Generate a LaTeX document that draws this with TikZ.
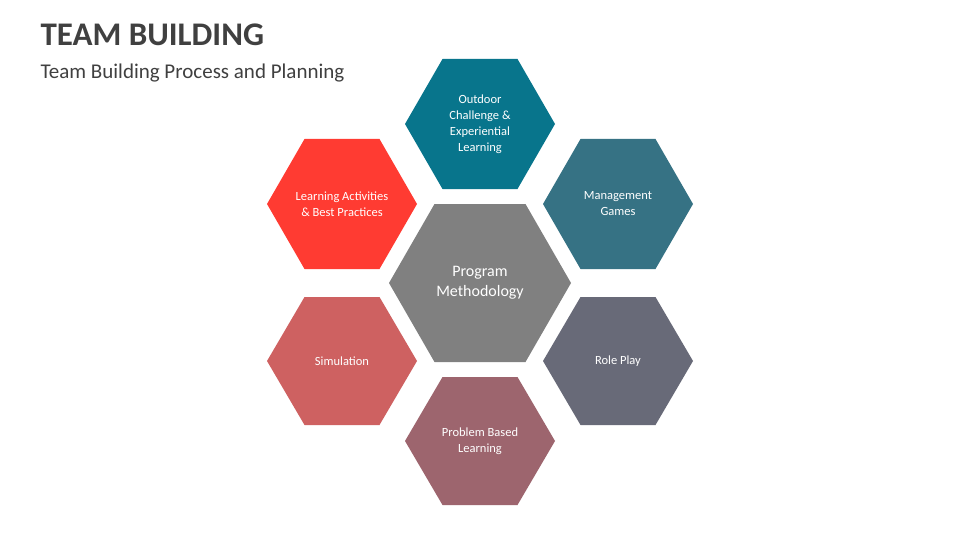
\documentclass[tikz,border=0pt]{standalone}
\usepackage{fontspec}
\setmainfont{Carlito}
\definecolor{cTop}{RGB}{8,117,140}
\definecolor{cMg}{RGB}{54,114,132}
\definecolor{cLa}{RGB}{255,59,50}
\definecolor{cSim}{RGB}{206,97,97}
\definecolor{cRole}{RGB}{104,106,120}
\definecolor{cProb}{RGB}{157,101,110}
\definecolor{cCen}{RGB}{128,128,128}
\definecolor{cTitle}{RGB}{64,64,64}
\newcommand{\hexshape}[5]{%
  \fill[#5] (#1-#3,#2) -- (#1-#3/2,#2-#4) -- (#1+#3/2,#2-#4) -- (#1+#3,#2) -- (#1+#3/2,#2+#4) -- (#1-#3/2,#2+#4) -- cycle;}
\tikzset{lbl/.style={text=white,align=center,font=\fontsize{12.5}{16}\selectfont}}
\begin{document}
\begin{tikzpicture}[x=1pt,y=-1pt]
\useasboundingbox (0,0) rectangle (960,540);
\fill[white] (0,0) rectangle (960,540);
\node[anchor=west,text=cTitle,font=\fontsize{33}{36}\selectfont\bfseries] (title) at (37,35) {TEAM BUILDING};
\node[anchor=west,text=cTitle,font=\fontsize{21}{24}\selectfont] (sub) at (37,73) {Team Building Process and Planning};
\hexshape{480}{124}{75}{65}{cTop}
\hexshape{618}{204}{75}{65}{cMg}
\hexshape{342}{204}{75}{65}{cLa}
\hexshape{342}{361}{75}{64}{cSim}
\hexshape{618}{361}{75}{64}{cRole}
\hexshape{480}{441}{75}{64}{cProb}
\hexshape{480}{283}{91}{79}{cCen}
\node[lbl] (top) at (480,124) {Outdoor\\Challenge \&\\Experiential\\Learning};
\node[lbl] (mg) at (618,204) {Management\\Games};
\node[lbl] (la) at (342,204) {Learning Activities\\\& Best Practices};
\node[lbl] (sim) at (342,361) {Simulation};
\node[lbl] (role) at (618,361) {Role Play};
\node[lbl] (prob) at (480,441) {Problem Based\\Learning};
\node[lbl,font=\fontsize{16}{20}\selectfont] (cen) at (480,283) {Program\\Methodology};
\end{tikzpicture}
\end{document}
